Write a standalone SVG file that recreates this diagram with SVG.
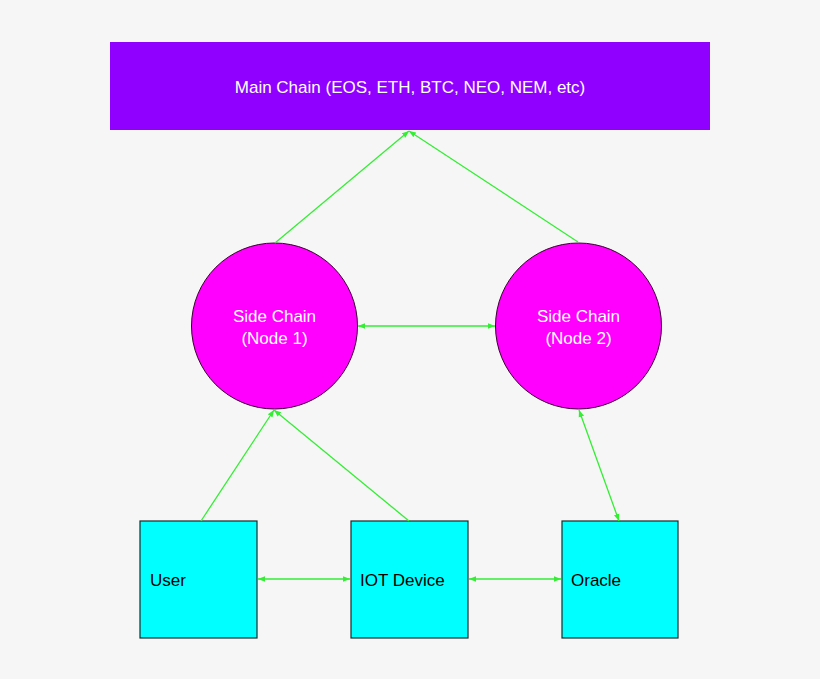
<svg xmlns="http://www.w3.org/2000/svg" width="820" height="679" viewBox="0 0 820 679">
<style>
text{font-family:"Liberation Sans",Arial,sans-serif;font-size:17px}
.w{fill:#fff}.k{fill:#000}
.c{fill:#ff00ff;stroke:#3a0030;stroke-width:1}
.b{fill:#00ffff;stroke:#1a2a2a;stroke-width:1.2}
.l{stroke:#33ee33;stroke-width:1.3;fill:none;marker-end:url(#a)}
.d{marker-start:url(#s)}
</style>
<defs>
<marker id="a" viewBox="0 0 10 10" refX="10" refY="5" markerWidth="7" markerHeight="7" orient="auto" markerUnits="userSpaceOnUse"><path d="M0,1L10,5L0,9z" fill="#33ee33"/></marker>
<marker id="s" viewBox="0 0 10 10" refX="0" refY="5" markerWidth="7" markerHeight="7" orient="auto" markerUnits="userSpaceOnUse"><path d="M10,1L0,5L10,9z" fill="#33ee33"/></marker>
</defs>
<rect width="820" height="679" fill="#f6f6f6"/>
<g id="main"><rect x="110" y="42" width="600" height="88" fill="#8f00ff"/><text class="w" x="410" y="93" text-anchor="middle">Main Chain (EOS, ETH, BTC, NEO, NEM, etc)</text></g>
<g id="node1"><circle class="c" cx="274.5" cy="326" r="83"/><text class="w" x="274.5" y="322" text-anchor="middle">Side Chain</text><text class="w" x="274.5" y="344" text-anchor="middle">(Node 1)</text></g>
<g id="node2"><circle class="c" cx="578.5" cy="326" r="83"/><text class="w" x="578.5" y="322" text-anchor="middle">Side Chain</text><text class="w" x="578.5" y="344" text-anchor="middle">(Node 2)</text></g>
<g id="user"><rect class="b" x="140" y="521" width="117" height="117"/><text class="k" x="150" y="586">User</text></g>
<g id="iot"><rect class="b" x="351" y="521" width="117" height="117"/><text class="k" x="360" y="586">IOT Device</text></g>
<g id="oracle"><rect class="b" x="562" y="521" width="116" height="117"/><text class="k" x="571" y="586">Oracle</text></g>
<g id="connectors">
<line class="l" x1="275" y1="243" x2="409" y2="131"/>
<line class="l" x1="578" y1="242" x2="409" y2="131"/>
<line class="l d" x1="358" y1="326" x2="495" y2="326"/>
<line class="l" x1="201" y1="521" x2="274" y2="410"/>
<line class="l" x1="409" y1="521" x2="274" y2="410"/>
<line class="l d" x1="579" y1="410" x2="619" y2="521"/>
<line class="l d" x1="258" y1="579" x2="350" y2="579"/>
<line class="l d" x1="469" y1="579" x2="561" y2="579"/>
</g>
</svg>
